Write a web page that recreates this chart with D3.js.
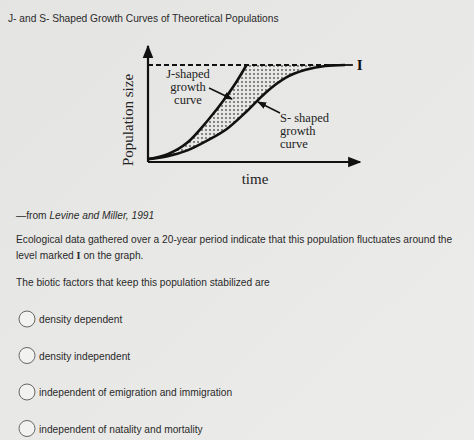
<!DOCTYPE html><html><head><meta charset="utf-8"><script src="https://cdn.jsdelivr.net/npm/d3@7"></script>
<style>body{margin:0;background:#e6e6e4}svg{display:block}</style></head><body><svg id="c" width="474" height="440"></svg><script>
const jTime=[0,1,2,3,4,4.5,5];
const jVal=[3,8,20,42,68,83,100];
const sTime=[0,1,2,3,4,5,6,7,8,9,10];
const sVal=[3,6,12,22,34,52,72,87,95,99,100];
const carrying=100;
const options=["density dependent","density independent","independent of emigration and immigration","independent of natality and mortality"];
const svg=d3.select("#c");
const defs=svg.append("defs");
const g=defs.append("linearGradient").attr("id","bg").attr("x1",0).attr("y1",0).attr("x2",1).attr("y2",1);
g.append("stop").attr("offset",0).attr("stop-color","#e4e4e2");g.append("stop").attr("offset",1).attr("stop-color","#ececea");
const p=defs.append("pattern").attr("id","dots").attr("width",4).attr("height",4).attr("patternUnits","userSpaceOnUse");
p.append("circle").attr("cx",2).attr("cy",2).attr("r",0.9).attr("fill","#555");
const m=defs.append("marker").attr("id","ar").attr("viewBox","0 0 10 10").attr("refX",9).attr("refY",5).attr("markerWidth",6).attr("markerHeight",6).attr("orient","auto");
m.append("path").attr("d","M0,1L10,5L0,9z").attr("fill","#111");
svg.append("rect").attr("width",474).attr("height",440).attr("fill","url(#bg)");
const x=d3.scaleLinear().domain([0,10]).range([148,345]);
const y=d3.scaleLinear().domain([0,100]).range([162,65]);
const sans="Liberation Sans, Arial, sans-serif", serif="Liberation Serif, Times New Roman, serif";
const J=jTime.map((t,i)=>[t,jVal[i]]), S=sTime.map((t,i)=>[t,sVal[i]]);
const line=d3.line().x(d=>x(d[0])).y(d=>y(d[1])).curve(d3.curveMonotoneX);
const sBack=d3.line().curve(d3.curveMonotoneX)(S.filter(d=>d[0]<=8.5).concat([[8.5,carrying]]).reverse().map(d=>[x(d[0]),y(d[1])]));
svg.append("path").attr("d",line(J)+"L"+x(8.5)+","+y(carrying)+"L"+sBack.slice(1)+"Z").attr("fill","url(#dots)").attr("stroke","none");
svg.append("line").attr("x1",x(0)).attr("x2",x(10)).attr("y1",y(carrying)).attr("y2",y(carrying)).attr("stroke","#111").attr("stroke-width",1.8).attr("stroke-dasharray","5,3");
svg.append("line").attr("x1",x(9)).attr("x2",x(10.4)).attr("y1",y(carrying)).attr("y2",y(carrying)).attr("stroke","#111").attr("stroke-width",1.8);
svg.append("text").attr("x",x(10.6)).attr("y",y(carrying)+5).text("I").attr("font-family",serif).attr("font-weight","bold").attr("font-size",15).attr("fill","#111");
svg.append("path").attr("d",line(J)).attr("fill","none").attr("stroke","#111").attr("stroke-width",2.6);
svg.append("path").attr("d",line(S)).attr("fill","none").attr("stroke","#111").attr("stroke-width",2.6);
svg.append("line").attr("x1",x(0)).attr("x2",x(0)).attr("y1",y(0)).attr("y2",46).attr("stroke","#111").attr("stroke-width",2.2).attr("marker-end","url(#ar)");
svg.append("line").attr("x1",x(0)).attr("x2",360).attr("y1",y(0)).attr("y2",y(0)).attr("stroke","#111").attr("stroke-width",2.2).attr("marker-end","url(#ar)");
svg.append("text").attr("transform","translate(133,120) rotate(-90)").attr("text-anchor","middle").text("Population size").attr("font-family",serif).attr("font-size",15).attr("fill","#222");
svg.append("text").attr("x",255).attr("y",184).attr("text-anchor","middle").text("time").attr("font-family",serif).attr("font-size",15).attr("fill","#222");
["J-shaped","growth","curve"].forEach((t,i)=>svg.append("text").attr("x",188).attr("y",78+i*13).attr("text-anchor","middle").text(t).attr("font-family",serif).attr("font-size",12.5).attr("fill","#222"));
svg.append("line").attr("x1",209).attr("y1",88).attr("x2",232).attr("y2",99).attr("stroke","#111").attr("stroke-width",1.5).attr("marker-end","url(#ar)");
["S- shaped","growth","curve"].forEach((t,i)=>svg.append("text").attr("x",280).attr("y",122+i*13).text(t).attr("font-family",serif).attr("font-size",12.5).attr("fill","#222"));
svg.append("line").attr("x1",280).attr("y1",113).attr("x2",258).attr("y2",102).attr("stroke","#111").attr("stroke-width",1.5).attr("marker-end","url(#ar)");
const T=(tx,ty,s)=>svg.append("text").attr("x",tx).attr("y",ty).text(s).attr("font-family",sans).attr("font-size",10.2).attr("fill","#2a2a2a");
T(8,22,"J- and S- Shaped Growth Curves of Theoretical Populations");
const f=svg.append("text").attr("x",16).attr("y",219).attr("font-family",sans).attr("font-size",10.2).attr("fill","#2a2a2a");
f.append("tspan").text("—from ");f.append("tspan").attr("font-style","italic").text("Levine and Miller, 1991");
T(16,243,"Ecological data gathered over a 20-year period indicate that this population fluctuates around the");
const l2=svg.append("text").attr("x",16).attr("y",259).attr("font-family",sans).attr("font-size",10.2).attr("fill","#2a2a2a");
l2.append("tspan").text("level marked ");l2.append("tspan").attr("font-family",serif).attr("font-weight","bold").text("I");l2.append("tspan").text(" on the graph.");
T(16,286,"The biotic factors that keep this population stabilized are");
options.forEach((o,i)=>{const cy=319+i*36.5;
 svg.append("circle").attr("cx",27).attr("cy",cy).attr("r",8).attr("fill","#f2f2f0").attr("stroke","#666").attr("stroke-width",1);
 T(39,cy+4,o);});
</script></body></html>
